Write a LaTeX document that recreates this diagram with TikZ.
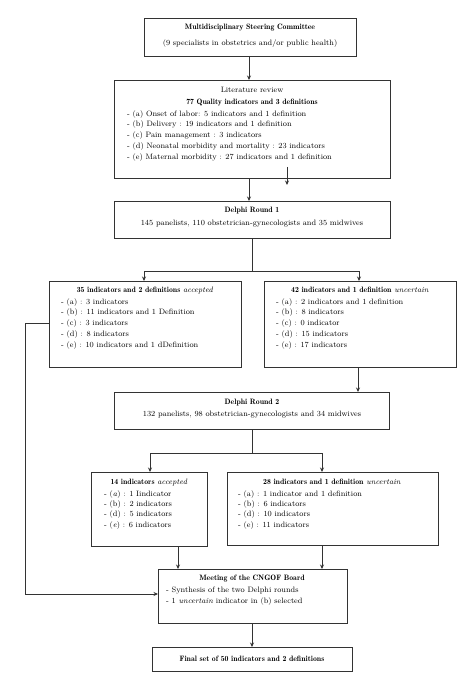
\documentclass[tikz,border=0pt]{standalone}
\usetikzlibrary{arrows.meta}
\newcommand\bt[1]{{\fontseries{b}\selectfont #1}}
\begin{document}
\begin{tikzpicture}[x=1pt,y=-1pt,
  box/.style={draw=black!80,line width=0.8pt,inner sep=0pt},
  txt/.style={inner sep=0pt,font=\fontsize{7.8}{9}\selectfont,anchor=mid},
  item/.style={inner sep=0pt,font=\fontsize{7.8}{9}\selectfont,anchor=mid west},
  conn/.style={draw=black!80,line width=0.8pt},
  arr/.style={conn,-{Stealth[length=4.5pt,width=4pt]}}]
\useasboundingbox (0,0) rectangle (474,687);
% boxes
\path[box] (144,18) rectangle (356,56);
\coordinate (b1s) at (249,56);
\node[txt] (b1t) at (250,27) {\bt{Multidisciplinary Steering Committee}};
\node[txt] (b1l) at (250,43) {(9 specialists in obstetrics and/or public health)};

\path[box] (114,80) rectangle (390,178);
\coordinate (b2n) at (249,80);
\coordinate (b2s) at (249,178);
\node[txt] (b2t) at (252,90) {Literature review};
\node[txt] (b2b) at (252,102) {\bt{77 Quality indicators and 3 definitions}};
\foreach \t [count=\i] in {{(a) Onset of labor: 5 indicators and 1 definition},
  {(b) Delivery : 19 indicators and 1 definition},
  {(c) Pain management : 3 indicators},
  {(d) Neonatal morbidity and mortality : 23 indicators},
  {(e) Maternal morbidity : 27 indicators and 1 definition}}
  \node[item] (b2i\i) at (127,{114+10.75*(\i-1)}) {-\ \t};
\coordinate (sa) at (287,167);
\coordinate (sb) at (287,185);

\path[box] (114,201) rectangle (390,238);
\coordinate (b3n) at (249,201);
\coordinate (b3s) at (252,238);
\node[txt] (b3t) at (252,210) {\bt{Delphi Round 1}};
\node[txt] (b3l) at (252,223) {145 panelists, 110 obstetrician-gynecologists and 35 midwives};

\path[box] (49,281) rectangle (241,367);
\coordinate (b4n) at (144,281);
\coordinate (b4w) at (49,323);
\node[txt] (b4t) at (145,290) {\bt{35 indicators and 2 definitions} \textit{accepted}};
\foreach \t [count=\i] in {{(a) : 3 indicators},
  {(b) : 11 indicators and 1 Definition},
  {(c) : 3 indicators},
  {(d) : 8 indicators},
  {(e) : 10 indicators and 1 dDefinition}}
  \node[item] (b4i\i) at (61,{302+10.8*(\i-1)}) {-\ \t};

\path[box] (264,281) rectangle (456,367);
\coordinate (b5n) at (359,281);
\coordinate (b5s) at (358,367);
\node[txt] (b5t) at (360,290) {\bt{42 indicators and 1 definition} \textit{uncertain}};
\foreach \t [count=\i] in {{(a) : 2 indicators and 1 definition},
  {(b) : 8 indicators},
  {(c) : 0 indicator},
  {(d) : 15 indicators},
  {(e) : 17 indicators}}
  \node[item] (b5i\i) at (276,{302+10.8*(\i-1)}) {-\ \t};

\path[box] (114,392) rectangle (389,429);
\coordinate (b6n) at (358,392);
\coordinate (b6s) at (252,429);
\node[txt] (b6t) at (252,402) {\bt{Delphi Round 2}};
\node[txt] (b6l) at (252,414) {132 panelists, 98 obstetrician-gynecologists and 34 midwives};

\path[box] (91,472) rectangle (207,546);
\coordinate (b7n) at (150,472);
\coordinate (b7s) at (178,546);
\node[txt] (b7t) at (149,482) {\bt{14 indicators} \textit{accepted}};
\foreach \t [count=\i] in {{(\textit{a}) : 1 Iindicator},
  {(b) : 2 indicators},
  {(d) : 5 indicators},
  {(\textit{e}) : 6 indicators}}
  \node[item] (b7i\i) at (104,{494+10.4*(\i-1)}) {-\ \t};

\path[box] (227,472) rectangle (438,545);
\coordinate (b8n) at (322,472);
\coordinate (b8s) at (322,545);
\node[txt] (b8t) at (332,482) {\bt{28 indicators and 1 definition} \textit{uncertain}};
\foreach \t [count=\i] in {{(a) : 1 indicator and 1 definition},
  {(b) : 6 indicators},
  {(d) : 10 indicators},
  {(e) : 11 indicators}}
  \node[item] (b8i\i) at (238,{494+10.4*(\i-1)}) {-\ \t};

\path[box] (158,569) rectangle (347,623);
\coordinate (b9a) at (178,569);
\coordinate (b9b) at (322,569);
\coordinate (b9w) at (158,594);
\coordinate (b9s) at (252,623);
\node[txt] (b9t) at (252,578) {\bt{Meeting of the CNGOF Board}};
\node[item] (b9i1) at (166,590) {-\ Synthesis of the two Delphi rounds};
\node[item] (b9i2) at (166,601) {-\ 1 \textit{uncertain} indicator in (b) selected};

\path[box] (152,647) rectangle (352,671);
\coordinate (b10n) at (252,647);
\node[txt] (b10t) at (252,659) {\bt{Final set of 50 indicators and 2 definitions}};

% connectors
\draw[arr] (b1s) -- (b2n);
\draw[arr] (b2s) -- (b3n);
\draw[arr] (sa) -- (sb);
\draw[conn] (b3s) -- (252,271);
\draw[conn] (144,271) -- (359,271);
\draw[arr] (144,271) -- (b4n);
\draw[arr] (359,271) -- (b5n);
\draw[arr] (b5s) -- (b6n);
\draw[conn] (b6s) -- (252,453);
\draw[conn] (150,453) -- (322,453);
\draw[arr] (150,453) -- (b7n);
\draw[arr] (322,453) -- (b8n);
\draw[arr] (b7s) -- (b9a);
\draw[arr] (b8s) -- (b9b);
\draw[arr] (b4w) -- (25,323) -- (25,594) -- (b9w);
\draw[arr] (b9s) -- (b10n);
\end{tikzpicture}
\end{document}
